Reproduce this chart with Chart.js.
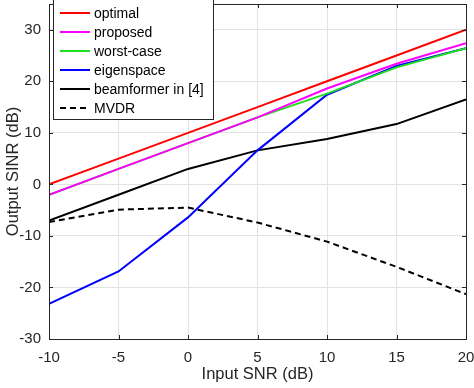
<!DOCTYPE html>
<html>
<head>
<meta charset="utf-8">
<script src="https://cdn.jsdelivr.net/npm/chart.js@4.4.0/dist/chart.umd.min.js"></script>
<style>
  html, body { margin: 0; padding: 0; background: #fff; }
  #wrap { width: 474px; height: 388px; }
</style>
</head>
<body>
<div id="wrap"><canvas id="sinr"></canvas></div>
<script>
const snr = [-10, -5, 0, 5, 10, 15, 20];
const optimal = [0, 5, 10, 15, 20, 25, 30];
const proposed = [-2, 3, 8, 13, 18.6, 23.4, 27.4];
const worstCase = [-2, 3, 8, 13, 17.6, 22.7, 26.4];
const eigenspace = [-23.2, -16.9, -6.4, 6.6, 17.4, 23.0, 26.4];
const beamformer4 = [-7.0, -2.0, 3.0, 6.6, 8.8, 11.7, 16.5];
const mvdr = [-7.3, -4.9, -4.5, -7.4, -11.1, -16.0, -21.3];
const xTicks = [-10, -5, 0, 5, 10, 15, 20];
const yTicks = [-30, -20, -10, 0, 10, 20, 30];

const axisColor = '#262626';
const font = 'Liberation Sans, Arial, sans-serif';

function series(label, values, color, dash) {
    return {
        label: label,
        data: snr.map((x, i) => ({ x: x, y: values[i] })),
        borderColor: color,
        backgroundColor: color,
        borderWidth: 2,
        borderDash: dash || [],
        pointRadius: 0,
        tension: 0,
        fill: false
    };
}

// MATLAB style box, inward ticks and legend inside the axes
const matlabAxes = {
    id: 'matlabAxes',
    afterDraw(chart) {
        const ctx = chart.ctx;
        const a = chart.chartArea;
        const xs = chart.scales.x, ys = chart.scales.y;
        ctx.save();
        ctx.strokeStyle = axisColor;
        ctx.lineWidth = 1;
        ctx.beginPath();
        xTicks.forEach(v => {
            const px = Math.round(xs.getPixelForValue(v)) + 0.5;
            ctx.moveTo(px, a.bottom); ctx.lineTo(px, a.bottom - 4);
            ctx.moveTo(px, a.top); ctx.lineTo(px, a.top + 4);
        });
        yTicks.forEach(v => {
            const py = Math.round(ys.getPixelForValue(v)) + 0.5;
            ctx.moveTo(a.left, py); ctx.lineTo(a.left + 4, py);
            ctx.moveTo(a.right, py); ctx.lineTo(a.right - 4, py);
        });
        ctx.stroke();
        ctx.strokeRect(Math.round(a.left) + 0.5, Math.round(a.top) + 0.5,
            Math.round(a.right - a.left), Math.round(a.bottom - a.top));

        // legend
        const bx = 53.5, by = -2.5, bw = 160, rowH = 19;
        const rows = chart.data.datasets.length;
        ctx.fillStyle = '#fff';
        ctx.fillRect(bx, by, bw, rows * rowH + 8);
        ctx.strokeStyle = axisColor;
        ctx.strokeRect(bx, by, bw, rows * rowH + 8);
        ctx.font = '14px ' + font;
        ctx.textBaseline = 'middle';
        chart.data.datasets.forEach((ds, i) => {
            const y = 13 + i * rowH;
            ctx.strokeStyle = ds.borderColor;
            ctx.lineWidth = 2;
            ctx.setLineDash(ds.borderDash);
            ctx.beginPath();
            ctx.moveTo(60, y); ctx.lineTo(90, y);
            ctx.stroke();
            ctx.setLineDash([]);
            ctx.fillStyle = '#000';
            ctx.fillText(ds.label, 94, y + 1);
        });
        ctx.restore();
    }
};

new Chart(document.getElementById('sinr'), {
    type: 'line',
    data: {
        datasets: [
            series('optimal', optimal, '#ff0000'),
            series('proposed', proposed, '#ff00ff'),
            series('worst-case', worstCase, '#1ee01e'),
            series('eigenspace', eigenspace, '#0000ff'),
            series('beamformer in [4]', beamformer4, '#000000'),
            series('MVDR', mvdr, '#000000', [6, 4])
        ]
    },
    options: {
        responsive: true,
        maintainAspectRatio: false,
        animation: false,
        layout: { padding: { left: 0, right: 8, top: 4, bottom: 0 } },
        plugins: { legend: { display: false }, tooltip: { enabled: false } },
        scales: {
            x: {
                type: 'linear',
                min: -10,
                max: 20,
                afterBuildTicks: s => { s.ticks = xTicks.map(v => ({ value: v })); },
                afterFit: s => { s.height = 49; s.paddingLeft = 0; s.paddingRight = 0; },
                grid: { color: '#e3e3e3', drawTicks: false },
                border: { display: false },
                ticks: { color: axisColor, font: { family: font, size: 15 }, padding: 10, maxRotation: 0 },
                title: { display: true, text: 'Input SNR (dB)', color: axisColor,
                         font: { family: font, size: 16.5 }, padding: { top: 5 } }
            },
            y: {
                min: -30,
                max: 35,
                afterBuildTicks: s => { s.ticks = yTicks.map(v => ({ value: v })); },
                afterFit: s => { s.width = 49; s.paddingTop = 0; s.paddingBottom = 0; },
                grid: { color: '#e3e3e3', drawTicks: false },
                border: { display: false },
                ticks: { color: axisColor, font: { family: font, size: 15 }, padding: 8 },
                title: { display: true, text: 'Output SINR (dB)', color: axisColor,
                         font: { family: font, size: 16.5 }, padding: { bottom: 0 } }
            }
        }
    },
    plugins: [matlabAxes]
});
</script>
</body>
</html>
